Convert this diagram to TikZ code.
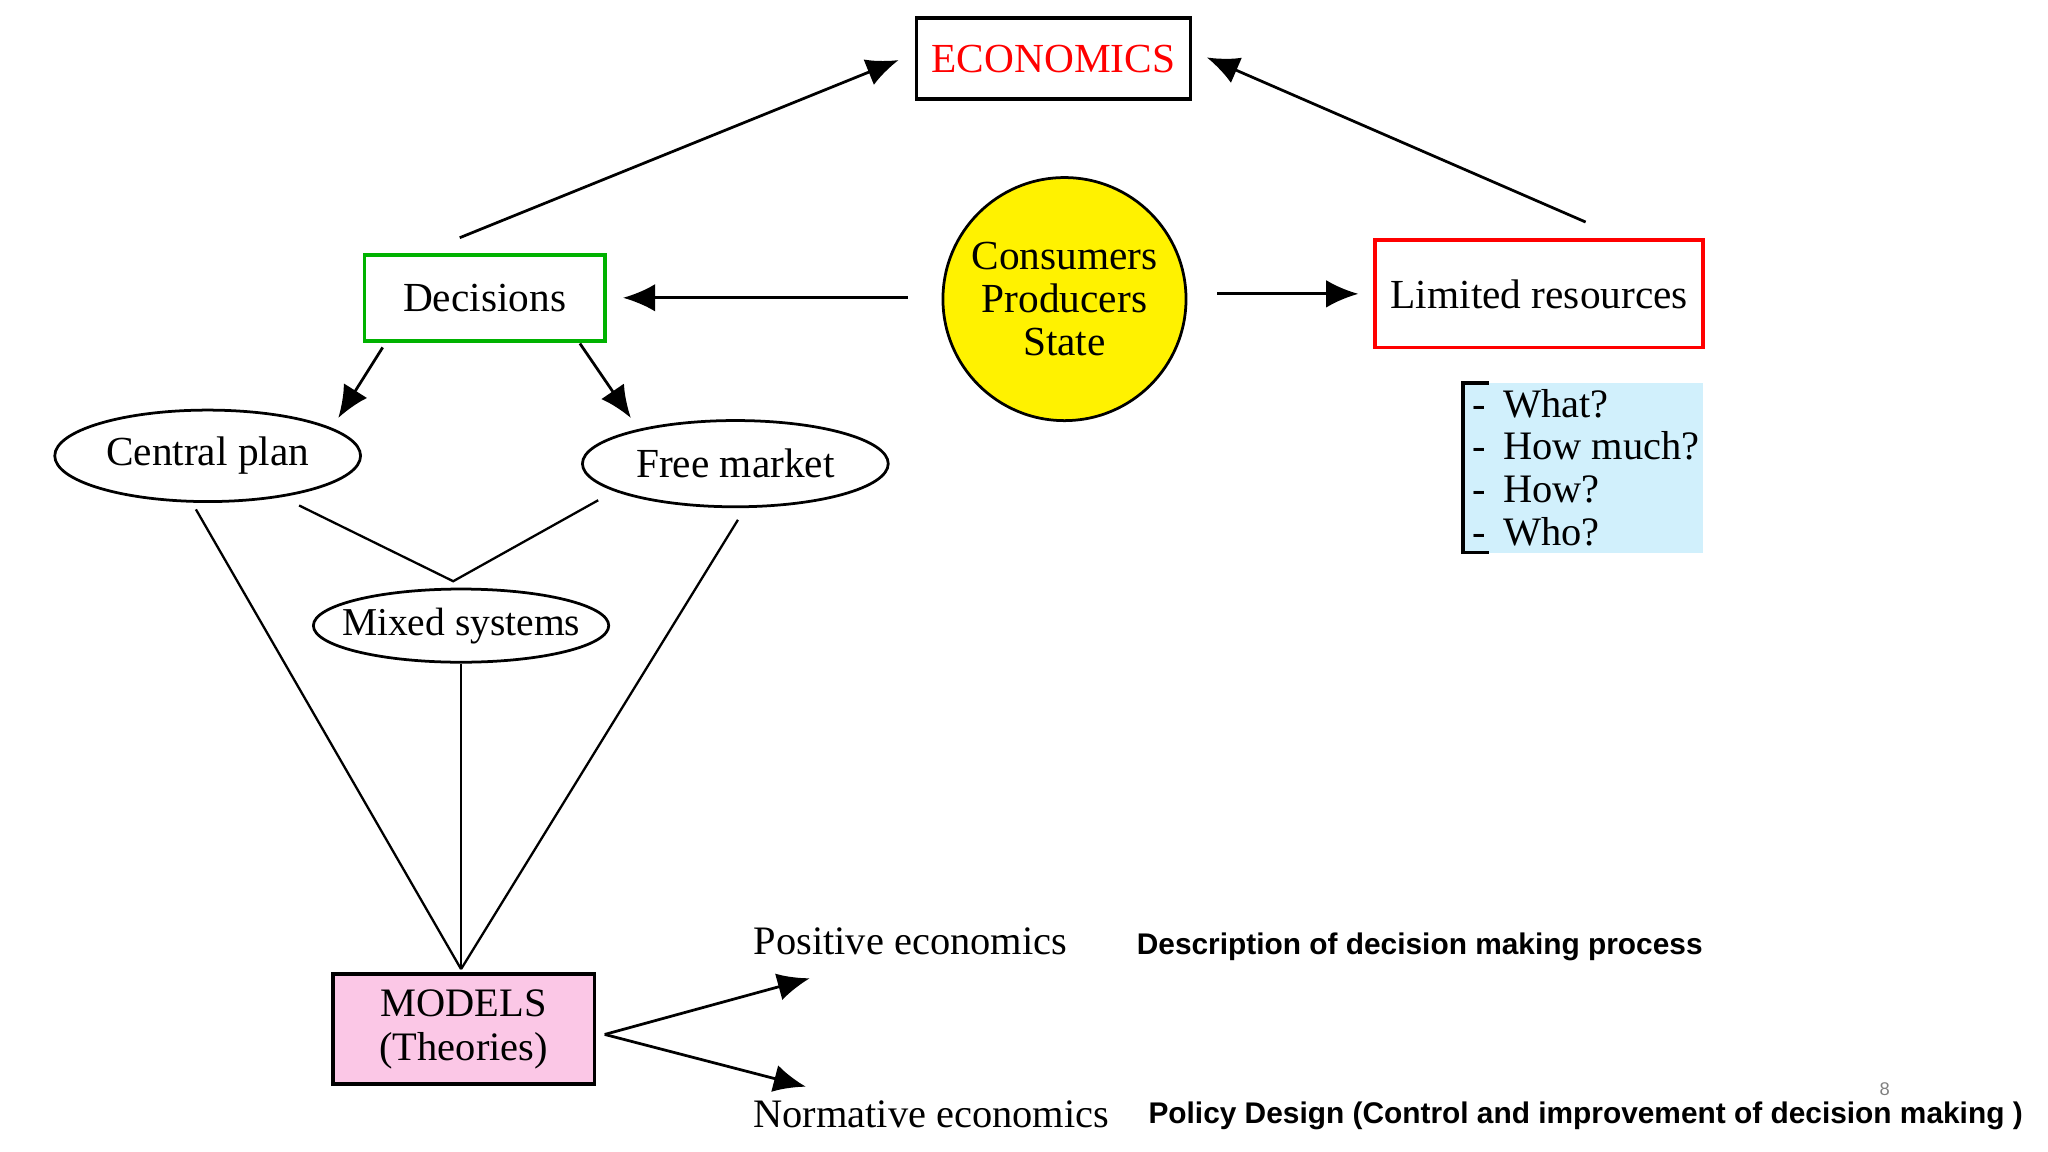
\documentclass[tikz,border=0pt]{standalone}
\usepackage{fontspec}
\setmainfont{Liberation Serif}
\newfontfamily\sansf{Liberation Sans}
\usetikzlibrary{arrows.meta,shapes.geometric}
\begin{document}
\begin{tikzpicture}[x=0.01cm,y=-0.01cm,
  arr/.style={draw,line width=0.6pt,-{Latex[length=7pt,width=6pt]}},
  ln/.style={draw,line width=0.5pt},
  box/.style={draw,line width=0.8pt,minimum height=0.6cm,font=\fontsize{9}{10}\selectfont},
  ell/.style={ellipse,draw,line width=0.6pt,font=\fontsize{9}{10}\selectfont,inner sep=0pt},
  lab/.style={font=\fontsize{8.8}{10}\selectfont},
  desc/.style={font=\sansf\bfseries\fontsize{6.5}{8}\selectfont}]
\useasboundingbox (0,0) rectangle (1568,882);
\node[box,minimum width=2.09cm,minimum height=0.62cm,text=red] (eco) at (806.5,45) {ECONOMICS};
\node[box,draw=green!70!black,minimum width=1.84cm,minimum height=0.66cm] (dec) at (371,228) {Decisions};
\node[circle,draw,fill=yellow,line width=0.6pt,minimum size=1.86cm,inner sep=0pt,align=center,
  font=\fontsize{9}{9.4}\selectfont] (cps) at (815,229) {Consumers\\Producers\\State};
\node[box,draw=red,minimum width=2.51cm,minimum height=0.82cm] (lim) at (1178.5,225) {Limited resources};
\node[fill=cyan!18,minimum width=1.84cm,minimum height=1.3cm,inner sep=0pt] (q) at (1212,358) {};
\node[align=left,anchor=west,font=\fontsize{8.8}{9.3}\selectfont,inner sep=0pt] (qt) at (1127,358)
  {-\, What?\\-\, How much?\\-\, How?\\-\, Who?};
\draw[line width=0.8pt] (1140,293) -- (1120,293) -- (1120,423) -- (1140,423);
\node[ell,minimum width=2.34cm,minimum height=0.7cm] (cp) at (159,349) {Central plan};
\node[ell,minimum width=2.34cm,minimum height=0.66cm] (fm) at (563,355) {Free market};
\node[ell,minimum width=2.26cm,minimum height=0.56cm,font=\fontsize{8.6}{9}\selectfont,inner xsep=-4pt] (mx) at (353,479) {Mixed systems};
\node[box,fill=magenta!22,minimum width=2.0cm,minimum height=0.82cm,align=center,
  font=\fontsize{8.8}{9.6}\selectfont] (mod) at (355,788) {MODELS\\(Theories)};
\node[lab] (pos) at (697,721) {Positive economics};
\node[lab] (nor) at (713,853) {Normative economics};
\node[desc] (d1) at (1087,725) {Description of decision making process};
\node[desc] (d2) at (1214,854) {Policy Design (Control and improvement of decision making )};
\node[font=\sansf\fontsize{4}{5}\selectfont,text=gray] (pg) at (1443,834) {8};
\coordinate (a1) at (352,182); \coordinate (a2) at (688,46);
\coordinate (b1) at (1214,170); \coordinate (b2) at (924,44);
\coordinate (c1) at (695,228); \coordinate (c2) at (477,228);
\coordinate (d1s) at (932,225); \coordinate (d2e) at (1040,225);
\coordinate (e1) at (293,266); \coordinate (e2) at (259,320);
\coordinate (f1) at (444,263); \coordinate (f2) at (483,320);
\coordinate (j) at (347,445); \coordinate (m) at (353,742);
\coordinate (ms) at (463,792);
\coordinate (pa) at (620,749); \coordinate (na) at (617,832);
\draw[arr] (a1) -- (a2);
\draw[arr] (b1) -- (b2);
\draw[arr] (c1) -- (c2);
\draw[arr] (d1s) -- (d2e);
\draw[arr] (e1) -- (e2);
\draw[arr] (f1) -- (f2);
\draw[ln] (150,390) -- (m);
\draw[ln] (229,387) -- (j) -- (458,383);
\draw[ln] (565,398) -- (m);
\draw[ln] (mx.south) -- (m);
\draw[arr] (ms) -- (pa);
\draw[arr] (ms) -- (na);
\end{tikzpicture}
\end{document}
